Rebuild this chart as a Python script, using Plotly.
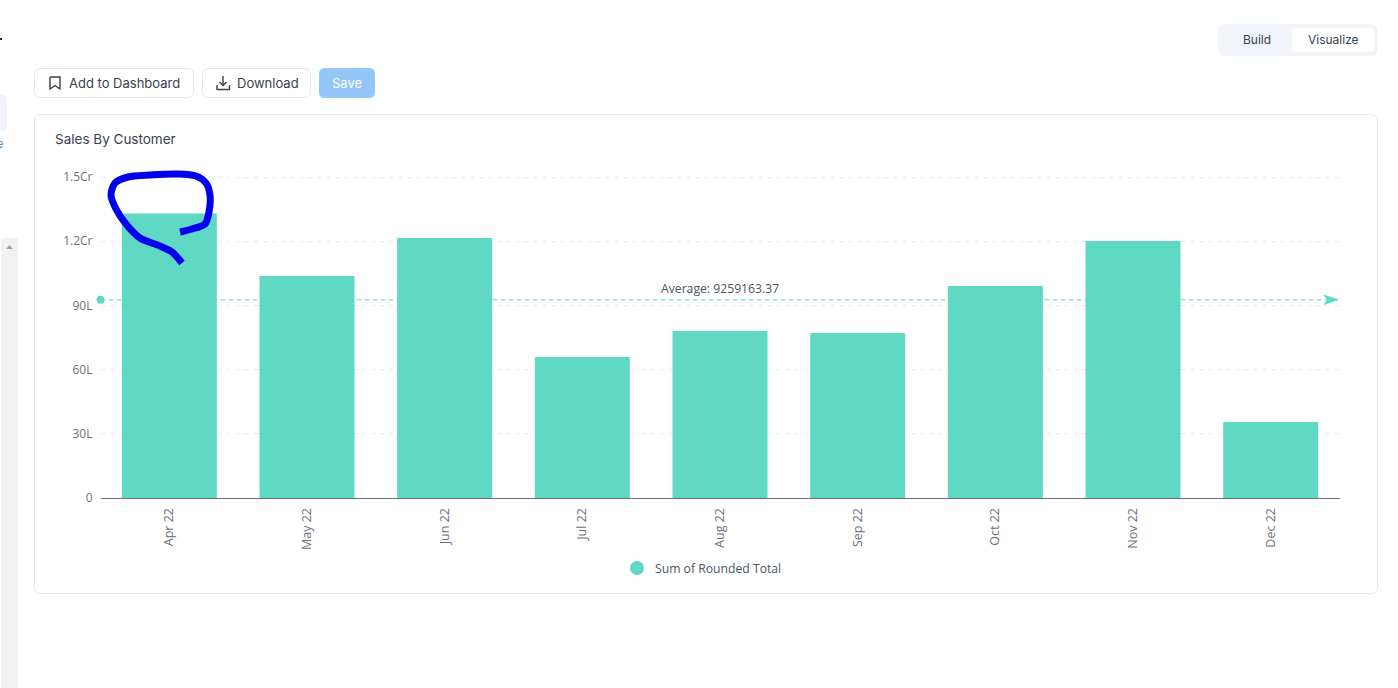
import plotly.graph_objects as go

W, H = 1398, 688

# chart data
months = ["Apr 22", "May 22", "Jun 22", "Jul 22", "Aug 22", "Sep 22", "Oct 22", "Nov 22", "Dec 22"]
totals = [13290000, 10370000, 12150000, 6590000, 7800000, 7710000, 9910000, 12010000, 3550000]
average = 9259163.37
tick_vals = [0, 3000000, 6000000, 9000000, 12000000, 15000000]
tick_text = ["0", "30L", "60L", "90L", "1.2Cr", "1.5Cr"]
series_name = "Sum of Rounded Total"

# hand drawn circle on the screenshot, in page pixels
scribble_x = [180, 192, 205, 209, 210, 206, 196, 178, 150, 128, 115, 111, 116, 126, 140, 160, 172, 182]
scribble_y = [232, 229, 224, 212, 195, 183, 176, 174, 175, 177, 183, 195, 209, 224, 238, 246, 252, 263]

TEAL = "#60d9c4"
TICK = "#6e7079"
INK = "#374151"


def fx(x):
    return x / W


def fy(y):
    return 1 - y / H


def round_rect(x0, y0, x1, y1, r, line=None, fill=None):
    path = (f"M {fx(x0 + r)} {fy(y0)} L {fx(x1 - r)} {fy(y0)} Q {fx(x1)} {fy(y0)} {fx(x1)} {fy(y0 + r)} "
            f"L {fx(x1)} {fy(y1 - r)} Q {fx(x1)} {fy(y1)} {fx(x1 - r)} {fy(y1)} "
            f"L {fx(x0 + r)} {fy(y1)} Q {fx(x0)} {fy(y1)} {fx(x0)} {fy(y1 - r)} "
            f"L {fx(x0)} {fy(y0 + r)} Q {fx(x0)} {fy(y0)} {fx(x0 + r)} {fy(y0)} Z")
    return dict(type="path", xref="paper", yref="paper", path=path, layer="below",
                line=dict(color=line or "rgba(0,0,0,0)", width=1), fillcolor=fill or "rgba(0,0,0,0)")


def icon(points, color=INK, width=1.4):
    path = "M " + " L ".join(f"{fx(x)} {fy(y)}" for x, y in points)
    return dict(type="path", xref="paper", yref="paper", path=path, line=dict(color=color, width=width))


def label(x, y, text, size=13, color=INK, font="Inter", xanchor="center"):
    return dict(xref="paper", yref="paper", x=fx(x), y=fy(y), text=text, showarrow=False, xanchor=xanchor,
                yanchor="middle", font=dict(family=font, size=size, color=color))


fig = go.Figure()

fig.add_trace(go.Bar(x=months, y=totals, name=series_name, marker=dict(color=TEAL, line_width=0), showlegend=False))

# average line, runs the full width of the plot
fig.add_trace(go.Scatter(x=[0, 1], y=[average, average], xaxis="x2", mode="lines", cliponaxis=False,
                         line=dict(color=TEAL, width=1, dash="5px,3px"), showlegend=False))
fig.add_trace(go.Scatter(x=[0], y=[average], xaxis="x2", mode="markers", cliponaxis=False,
                         marker=dict(color=TEAL, size=8), showlegend=False))

# legend dot, drawn by hand so the chrome stays where it is in paper coords
fig.add_trace(go.Scatter(x=[637], y=[568], xaxis="x3", yaxis="y2", mode="markers", showlegend=False,
                         marker=dict(color=TEAL, size=14)))

fig.add_trace(go.Scatter(x=scribble_x, y=scribble_y, xaxis="x3", yaxis="y2", mode="lines", showlegend=False,
                         line=dict(color="#0000ee", width=7, shape="spline", smoothing=0.8)))

shapes = [
    # scrollbar and sidebar leftovers
    dict(type="rect", xref="paper", yref="paper", x0=fx(1), x1=fx(18), y0=fy(238), y1=fy(688),
         fillcolor="#f1f1f1", line_width=0, layer="below"),
    dict(type="path", xref="paper", yref="paper", layer="below", fillcolor="#a3a3a3", line_width=0,
         path=f"M {fx(6)} {fy(249)} L {fx(13)} {fy(249)} L {fx(9.5)} {fy(245)} Z"),
    round_rect(-8, 94, 7, 131, 5, fill="#f1f5f9"),
    dict(type="rect", xref="paper", yref="paper", x0=0, x1=fx(2), y0=fy(40), y1=fy(38),
         fillcolor="#1f2937", line_width=0, layer="below"),
    # toggle
    round_rect(1218, 24, 1378, 56, 6, fill="#f1f5f9"),
    round_rect(1292, 28, 1374, 52, 4, fill="#ffffff"),
    # buttons
    round_rect(34.5, 68.5, 193.5, 97.5, 6, line="#e2e8f0", fill="#ffffff"),
    round_rect(202.5, 68.5, 310.5, 97.5, 6, line="#e2e8f0", fill="#ffffff"),
    round_rect(319, 68, 375, 98, 6, fill="#93c5f8"),
    # card
    round_rect(34.5, 114.5, 1377.5, 593.5, 6, line="#e2e8f0", fill="#ffffff"),
    # bookmark icon
    icon([(50, 77), (60, 77), (60, 89), (55, 85.5), (50, 89), (50, 77)]),
    # download icon
    icon([(223, 76), (223, 85)]),
    icon([(219.5, 82), (223, 85.5), (226.5, 82)]),
    icon([(217, 85), (217, 89.5), (229.5, 89.5), (229.5, 85)]),
    # arrow head at the end of the average line
    dict(type="path", xref="paper", yref="y", xsizemode="pixel", ysizemode="pixel",
         xanchor=fx(1339), yanchor=average, path="M -16 -5.5 L 0 0 L -16 5.5 L -12 0 Z",
         fillcolor=TEAL, line_width=0),
]

annotations = [
    label(1257, 40, "Build", size=12),
    label(1333, 40, "Visualize", size=12),
    label(67, 83.5, "Add to Dashboard", xanchor="left"),
    label(235, 83.5, "Download", xanchor="left"),
    label(347, 83.5, "Save", color="#ffffff", size=13),
    label(53, 139, "Sales By Customer", size=13.5, xanchor="left"),
    label(0, 144, "e", size=11, color="#3b82c4", xanchor="center"),
    label(719.5, 288, f"Average: {average}", size=12.2, color="#4b5563", font="Open Sans"),
    label(653, 568, series_name, size=12.2, color="#4b5563", font="Open Sans", xanchor="left"),
]

fig.update_layout(
    width=W, height=H,
    margin=dict(l=0, r=0, t=0, b=0, autoexpand=False),
    paper_bgcolor="#ffffff", plot_bgcolor="rgba(0,0,0,0)",
    font=dict(family="Open Sans", size=12, color=TICK),
    bargap=0.31,
    showlegend=False,
    shapes=shapes,
    annotations=annotations,
    xaxis=dict(domain=[fx(100.5), fx(1339.5)], tickangle=-90, showgrid=False, showline=True, linecolor=TICK,
               linewidth=1, ticks="", tickfont=dict(size=12.5, color=TICK), anchor="y", ticklabelstandoff=4),
    xaxis2=dict(domain=[fx(100.5), fx(1339.5)], range=[0, 1], overlaying="x", visible=False, anchor="y"),
    xaxis3=dict(domain=[0, 1], range=[0, W], visible=False, anchor="y2"),
    # range goes a little past 1.5Cr, the top gridline is dropped otherwise
    yaxis=dict(domain=[fy(498), fy(174.86)], range=[0, 15100000], tickvals=tick_vals, ticktext=tick_text,
               showgrid=True, gridcolor="#e6e8f3", griddash="5px,4px", gridwidth=1, zeroline=False,
               ticks="", tickfont=dict(size=12, color=TICK), anchor="x", ticklabelstandoff=7),
    yaxis2=dict(domain=[0, 1], range=[H, 0], visible=False, anchor="x3"),
)

fig.write_html("out.html", config=dict(displayModeBar=False),
               post_script="document.body.style.margin='0';document.body.style.overflow='hidden';")
